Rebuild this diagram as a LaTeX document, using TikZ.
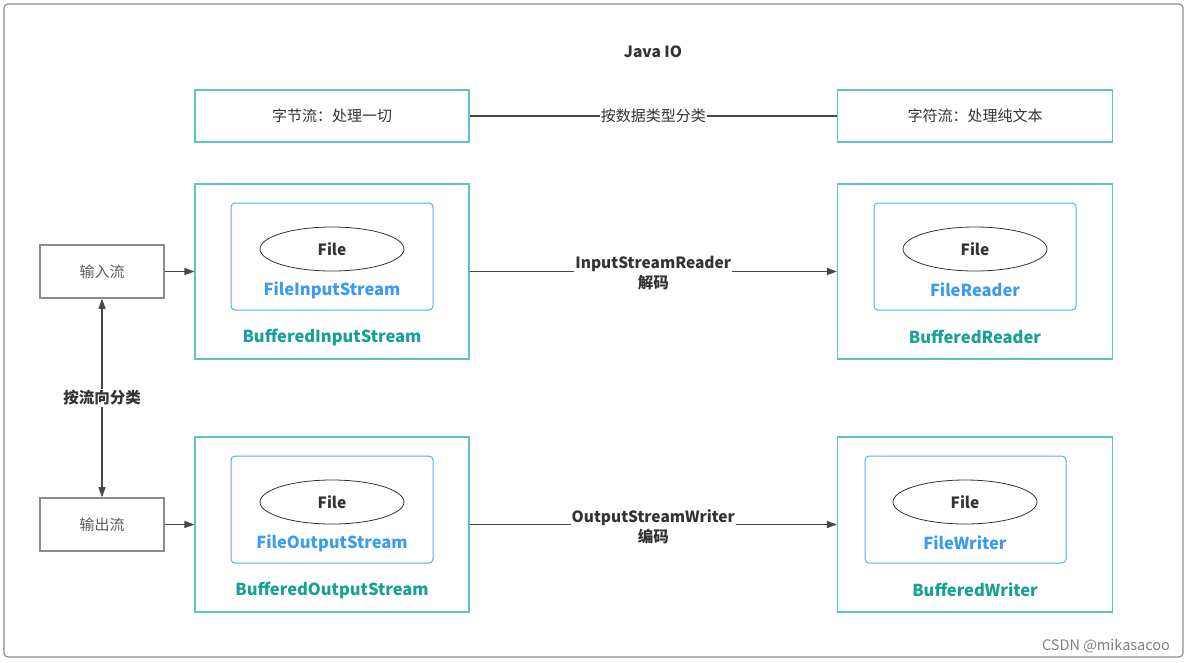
\documentclass[tikz,border=0pt]{standalone}
\usepackage{fontspec}
\setmainfont{Noto Sans CJK SC}
\usetikzlibrary{arrows.meta}
\definecolor{tealb}{HTML}{5CC4C4}
\definecolor{tealt}{HTML}{17A095}
\definecolor{blueb}{HTML}{5AA8F5}
\definecolor{bluet}{HTML}{3A9BF0}
\definecolor{grayb}{HTML}{8C8C8C}
\definecolor{txt}{HTML}{333333}
\begin{document}
\begin{tikzpicture}[x=1pt,y=-1pt,
  tbox/.style={draw=tealb,line width=1.2pt},
  ibox/.style={draw=blueb,line width=1pt,rounded corners=4pt},
  gbox/.style={draw=grayb,line width=1.6pt},
  ell/.style={draw=txt,line width=0.8pt},
  lbl/.style={font=\bfseries\fontsize{15.5}{18}\selectfont,text=txt},
  mlbl/.style={font=\fontsize{15}{18}\selectfont,text=txt},
  glbl/.style={font=\fontsize{15}{18}\selectfont,text=txt!80},
  tl/.style={font=\bfseries\fontsize{16.5}{19}\selectfont,text=tealt},
  bl/.style={font=\bfseries\fontsize{16.5}{19}\selectfont,text=bluet},
  conn/.style={draw=txt!90,line width=1.2pt},
  arr/.style={conn,-{Triangle[length=10pt,width=7pt]}}
]
\useasboundingbox (0,0) rectangle (1188,662);
\draw[draw=grayb,line width=1.2pt,rounded corners=4pt] (4,4) rectangle (1183,657);
\node[lbl] (title) at (653,52) {Java IO};
\node[font=\fontsize{14.5}{16}\selectfont,text=gray] (csdn) at (1106,646) {CSDN @mikasacoo};
% top
\node[tbox,minimum width=274pt,minimum height=52pt,mlbl] (byte) at (332,116) {字节流：处理一切};
\node[tbox,minimum width=275pt,minimum height=52pt,mlbl] (char) at (975,116) {字符流：处理纯文本};
\draw[conn] (byte) -- (char) node[midway,fill=white,inner sep=1pt,mlbl] (cls) {按数据类型分类};
% outer boxes
\node[tbox,minimum width=274pt,minimum height=175pt] (bis) at (332,271.5) {};
\node[tbox,minimum width=275pt,minimum height=175pt] (br) at (975,271.5) {};
\node[tbox,minimum width=274pt,minimum height=175pt] (bos) at (332,524.5) {};
\node[tbox,minimum width=275pt,minimum height=175pt] (bw) at (975,524.5) {};
\node[tl] (t1) at (332,337) {BufferedInputStream};
\node[tl] (t2) at (975,337) {BufferedReader};
\node[tl] (t3) at (332,590) {BufferedOutputStream};
\node[tl] (t4) at (975,590) {BufferedWriter};
% inner boxes
\node[ibox,minimum width=202pt,minimum height=107pt] (fis) at (332,256.5) {};
\node[ibox,minimum width=202pt,minimum height=107pt] (fr) at (975,256.5) {};
\node[ibox,minimum width=202pt,minimum height=107pt] (fos) at (332,509.5) {};
\node[ibox,minimum width=201pt,minimum height=107pt] (fw) at (965.5,509.5) {};
\node[bl] (b1) at (332,290) {FileInputStream};
\node[bl] (b2) at (975,290) {FileReader};
\node[bl] (b3) at (332,543) {FileOutputStream};
\node[bl] (b4) at (965,543) {FileWriter};
% ellipses
\foreach \n/\x/\y in {e1/332/249,e2/975/249,e3/332/502,e4/965/502}{
  \draw[ell] (\x,\y) ellipse [x radius=72, y radius=22];
  \node[lbl] (\n) at (\x,\y) {File};
}
% left boxes
\node[gbox,minimum width=124pt,minimum height=53pt,glbl] (in) at (102,271.5) {输入流};
\node[gbox,minimum width=124pt,minimum height=53pt,glbl] (out) at (102,524.5) {输出流};
\draw[arr] (in) -- (bis);
\draw[arr] (out) -- (bos);
\draw[conn,{Triangle[length=10pt,width=7pt]}-{Triangle[length=10pt,width=7pt]}] (in) -- (out) node[midway,fill=white,inner sep=2pt,lbl] (dir) {按流向分类};
% middle arrows
\draw[arr] (bis) -- (br) node[midway,fill=white,inner sep=1pt,lbl,align=center,font=\bfseries\fontsize{15.5}{20}\selectfont,yshift=-2pt] (isr) {InputStreamReader\\解码};
\draw[arr] (bos) -- (bw) node[midway,fill=white,inner sep=1pt,lbl,align=center,font=\bfseries\fontsize{15.5}{20}\selectfont,yshift=-2pt] (osw) {OutputStreamWriter\\编码};
\end{tikzpicture}
\end{document}
